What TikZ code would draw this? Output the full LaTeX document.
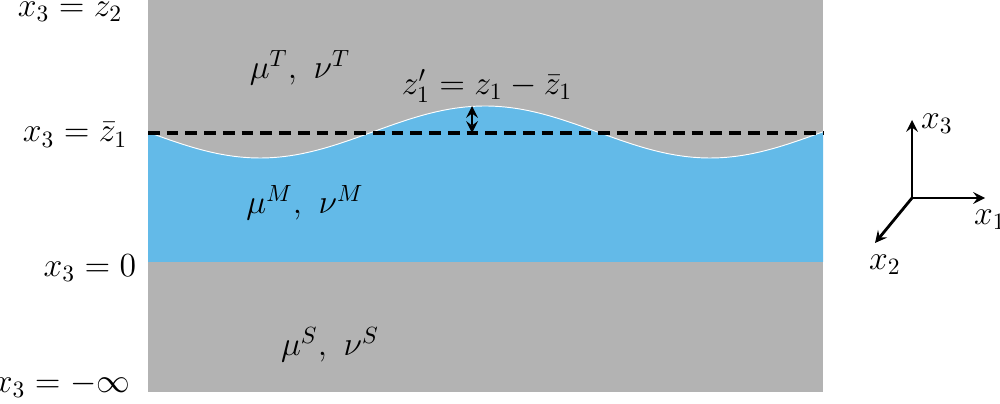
\documentclass[tikz,border=0pt]{standalone}
\definecolor{slab}{HTML}{B3B3B3}
\definecolor{film}{HTML}{63BAE8}
\tikzset{lab/.style={font=\Large}}
\begin{document}
\begin{tikzpicture}[x=0.015cm,y=-0.015cm]
\useasboundingbox (0,0) rectangle (1000,404);
\fill[slab] (148,0) rectangle (823,392);
\fill[film] (148,262) -- plot[domain=148:823,samples=120] (\x,{132-26*cos(0.8*(\x-485))}) -- (823,262) -- cycle;
\draw[white,line width=0.4pt] plot[domain=148:823,samples=120] (\x,{132-26*cos(0.8*(\x-485))});
\draw[line width=1.6pt,dash pattern=on 5pt off 3pt] (148,133) -- (823,133);
\coordinate (top) at (472,106);
\coordinate (base) at (472,133);
\draw[<->,>=stealth,line width=1.2pt] (top) -- (base);
\node[lab] (l1) at (70,12) {$x_3=z_2$};
\node[lab] (l2) at (75,135) {$x_3=\bar z_1$};
\node[lab] (l3) at (90,268) {$x_3=0$};
\node[lab] (l4) at (62,385) {$x_3=-\infty$};
\node[lab] (mt) at (300,68) {$\mu^T,\ \nu^T$};
\node[lab] (zz) at (487,86) {$z_1'=z_1-\bar z_1$};
\node[lab] (mm) at (305,203) {$\mu^M,\ \nu^M$};
\node[lab] (ms) at (330,345) {$\mu^S,\ \nu^S$};
\coordinate (o) at (912,198);
\coordinate (a3) at (912,120);
\coordinate (a1) at (985,198);
\coordinate (a2) at (875,243);
\draw[->,>=stealth,line width=1.2pt] (o) -- (a3);
\draw[->,>=stealth,line width=1.2pt] (o) -- (a1);
\draw[->,>=stealth,line width=1.2pt] (o) -- (a2);
\node[lab] (t3) at (937,124) {$x_3$};
\node[lab] (t1) at (990,220) {$x_1$};
\node[lab] (t2) at (885,265) {$x_2$};
\end{tikzpicture}
\end{document}
